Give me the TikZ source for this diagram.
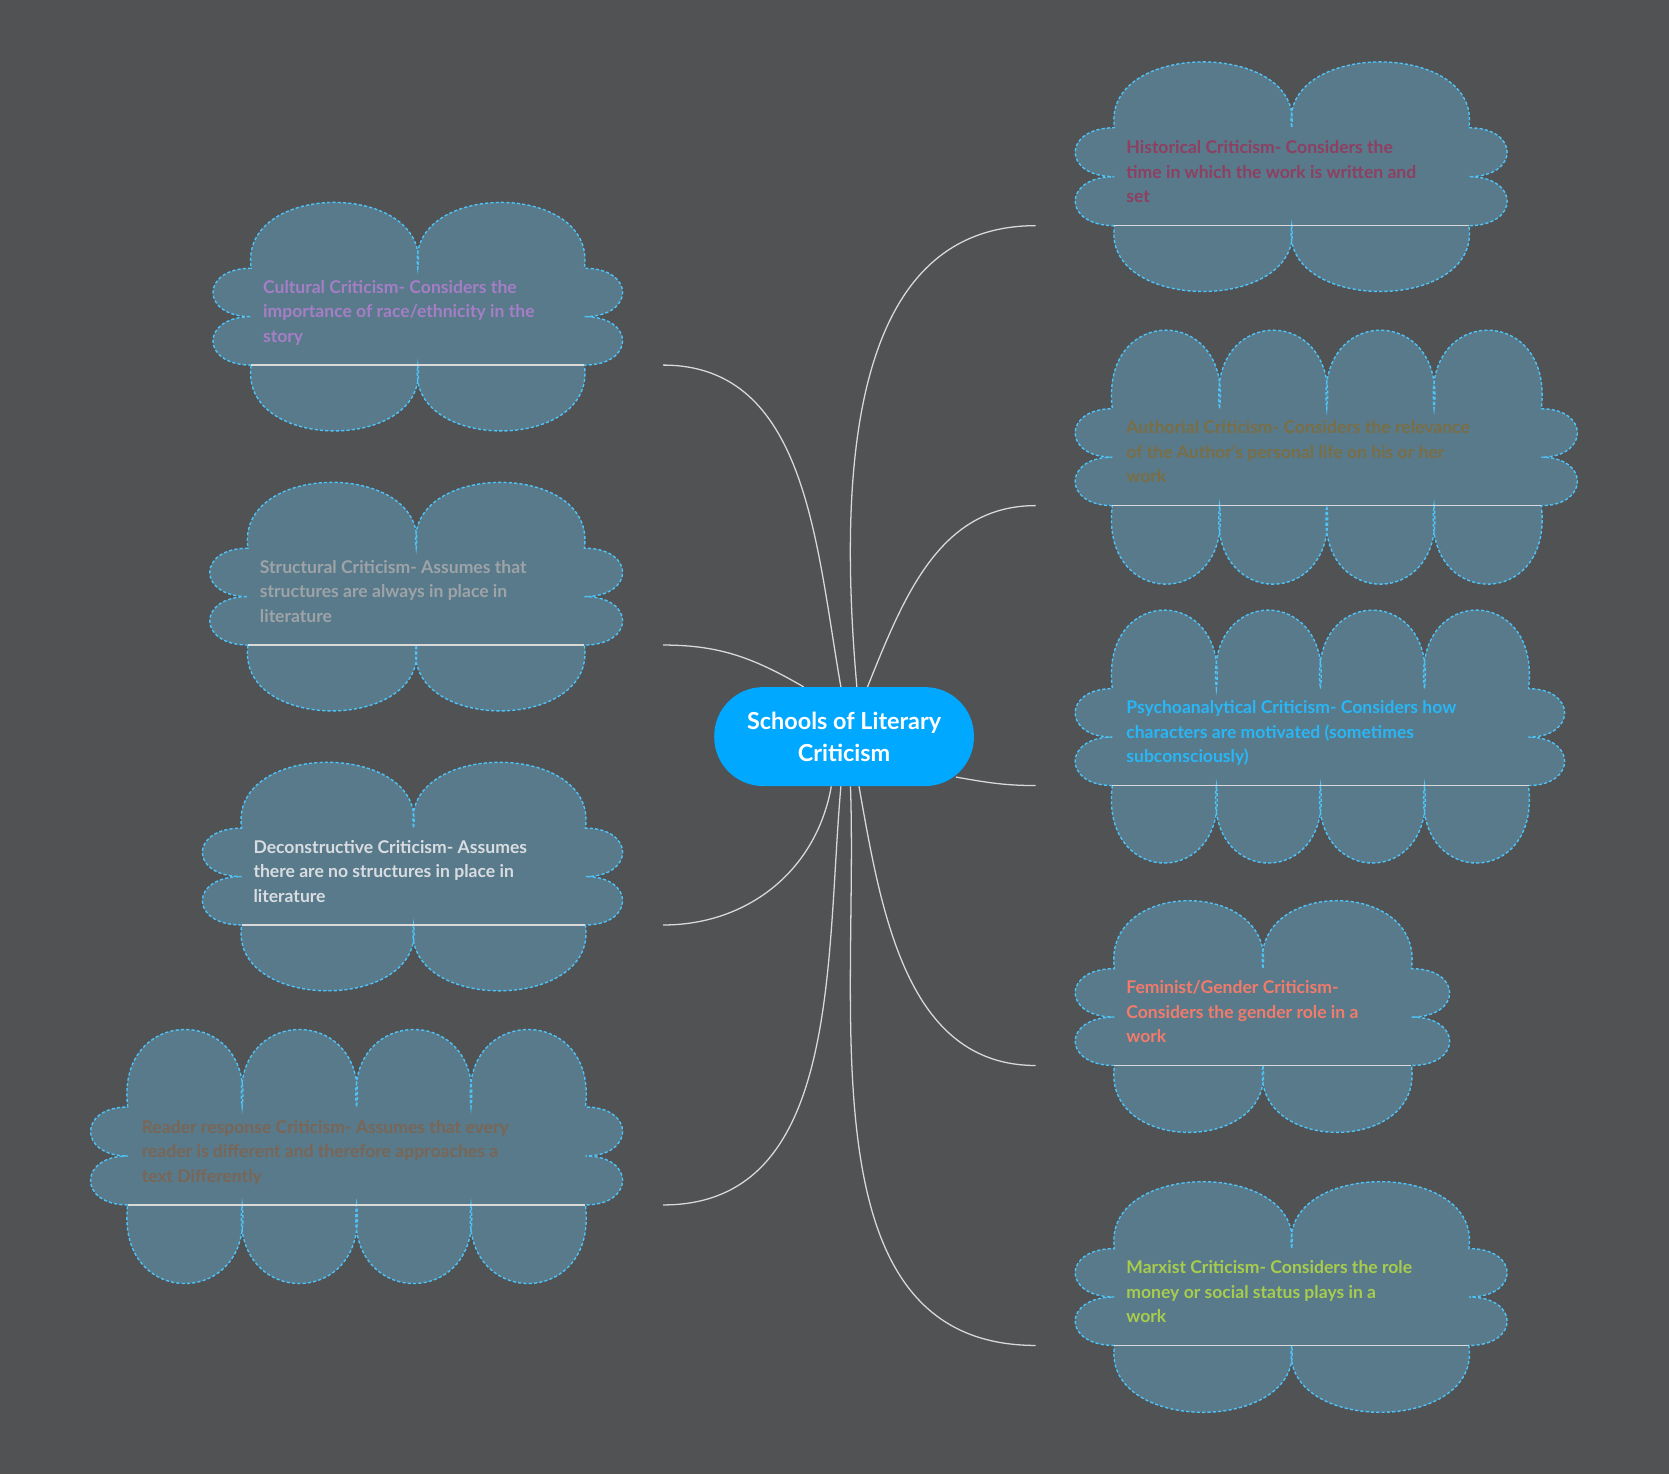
\documentclass[tikz,border=0pt]{standalone}
\usepackage{fontspec}
\setmainfont{Lato}
\definecolor{bg}{HTML}{515254}
\definecolor{cfill}{HTML}{587A8A}
\definecolor{cdash}{HTML}{4FC3F7}
\definecolor{cblue}{HTML}{00A8FF}
\definecolor{tHist}{HTML}{8E3F62}
\definecolor{tAuth}{HTML}{7A6E46}
\definecolor{tPsy}{HTML}{29B6F6}
\definecolor{tFem}{HTML}{F27B6B}
\definecolor{tMarx}{HTML}{A8CC4C}
\definecolor{tCult}{HTML}{A67EC6}
\definecolor{tStruc}{HTML}{9EA3A8}
\definecolor{tDec}{HTML}{D9DDE2}
\definecolor{tRead}{HTML}{7A6656}
\tikzset{
  cloudsty/.style={fill=cfill, draw=cdash, line width=1.3pt, dash pattern=on 3pt off 2pt},
  ctext/.style={anchor=north west, align=left, inner sep=0pt, font=\fontsize{16.5}{23}\selectfont\bfseries},
  uline/.style={draw=white!85!black, line width=1.4pt},
  conn/.style={draw=white!85!black, line width=1.2pt},
}
% #1 L #2 R #3 a #4 b #5 T #6 U #7 Ptop #8 Pbot #9 n
\newcommand\mycloud[9]{%
  \path[cloudsty] (#3,#6)
    .. controls ({#3-(#3-#1)*1.33},#6) and ({#3-(#3-#1)*1.33},{(#5+#6)/2}) .. (#3,{(#5+#6)/2})
    .. controls ({#3-(#3-#1)*1.33},{(#5+#6)/2}) and ({#3-(#3-#1)*1.33},#5) .. (#3,#5)
    \foreach \i in {1,...,#9}{
      .. controls ({#3+(\i-1)*(#4-#3)/#9-12},{#5-(#5-#7)*1.33}) and ({#3+\i*(#4-#3)/#9+12},{#5-(#5-#7)*1.33}) .. ({#3+\i*(#4-#3)/#9},#5)
    }
    .. controls ({#4+(#2-#4)*1.33},#5) and ({#4+(#2-#4)*1.33},{(#5+#6)/2}) .. (#4,{(#5+#6)/2})
    .. controls ({#4+(#2-#4)*1.33},{(#5+#6)/2}) and ({#4+(#2-#4)*1.33},#6) .. (#4,#6)
    \foreach \i in {1,...,#9}{
      .. controls ({#4-(\i-1)*(#4-#3)/#9+12},{#6+(#8-#6)*1.33}) and ({#4-\i*(#4-#3)/#9-12},{#6+(#8-#6)*1.33}) .. ({#4-\i*(#4-#3)/#9},#6)
    } -- cycle;
  \draw[uline] (#3,#6) -- (#4,#6);
}
\begin{document}
\begin{tikzpicture}[x=1pt,y=-1pt]
\fill[bg] (0,0) rectangle (1568,1385);
\useasboundingbox (0,0) rectangle (1568,1385);
% clouds
\mycloud{1010}{1416}{1047}{1380}{120}{212}{58}{274}{2}
\mycloud{1010}{1482}{1045}{1448}{384}{475}{310}{549}{4}
\mycloud{1010}{1470}{1045}{1436}{647}{738}{573}{811}{4}
\mycloud{1010}{1362}{1047}{1326}{910}{1001}{846}{1064}{2}
\mycloud{1010}{1416}{1047}{1380}{1173}{1264}{1110}{1327}{2}
\mycloud{200}{585}{236}{549}{252}{343}{190}{405}{2}
\mycloud{197}{585}{233}{549}{515}{606}{453}{668}{2}
\mycloud{190}{585}{227}{550}{778}{869}{716}{931}{2}
\mycloud{85}{585}{120}{550}{1040}{1132}{967}{1206}{4}
% texts
\node[ctext, text=tHist] (hist) at (1058,132) {Historical Criticism- Considers the\\time in which the work is written and\\set};
\node[ctext, text=tAuth] (auth) at (1058,395) {Authorial Criticism- Considers the relevance\\of the Author's personal life on his or her\\work};
\node[ctext, text=tPsy] (psy) at (1058,658) {Psychoanalytical Criticism- Considers how\\characters are motivated (sometimes\\subconsciously)};
\node[ctext, text=tFem] (fem) at (1058,921) {Feminist/Gender Criticism-\\Considers the gender role in a\\work};
\node[ctext, text=tMarx] (marx) at (1058,1184) {Marxist Criticism- Considers the role\\money or social status plays in a\\work};
\node[ctext, text=tCult] (cult) at (247,263) {Cultural Criticism- Considers the\\importance of race/ethnicity in the\\story};
\node[ctext, text=tStruc] (struc) at (244,526) {Structural Criticism- Assumes that\\structures are always in place in\\literature};
\node[ctext, text=tDec] (dec) at (238,789) {Deconstructive Criticism- Assumes\\there are no structures in place in\\literature};
\node[ctext, text=tRead] (read) at (133,1052) {Reader response Criticism- Assumes that every\\reader is different and therefore approaches a\\text Differently};
% connector endpoints
\coordinate (eH) at (973,212);
\coordinate (eA) at (973,475);
\coordinate (eP) at (973,738);
\coordinate (eF) at (973,1001);
\coordinate (eM) at (973,1264);
\coordinate (eC) at (623,343);
\coordinate (eS) at (623,606);
\coordinate (eD) at (623,869);
\coordinate (eR) at (623,1132);
% center node geometry (for anchors)
\path[use as bounding box] (0,0);
\node[inner sep=0pt, minimum width=244pt, minimum height=93pt] (cbox) at (793,692) {};
\draw[conn] ([xshift=12pt]cbox.north) to[out=95,in=180] (eH);
\draw[conn] ([xshift=22pt]cbox.north) to[out=68,in=180] (eA);
\draw[conn] ([xshift=105pt,yshift=-38pt]cbox.center) to[out=-10,in=180] (eP);
\draw[conn] ([xshift=14pt]cbox.south) to[out=-80,in=180] (eF);
\draw[conn] ([xshift=6pt]cbox.south) to[out=-88,in=180] (eM);
\draw[conn] ([xshift=-3pt]cbox.north) to[out=100,in=0] (eC);
\draw[conn] ([xshift=-38pt]cbox.north) to[out=150,in=0] (eS);
\draw[conn] ([xshift=-12pt]cbox.south) to[out=-100,in=0] (eD);
\draw[conn] ([xshift=-3pt]cbox.south) to[out=-95,in=0] (eR);
\node[fill=cblue, rounded corners=46pt, minimum width=244pt, minimum height=93pt, align=center, text=white, font=\fontsize{22}{30}\selectfont\bfseries] (center) at (793,692) {Schools of Literary\\Criticism};
\end{tikzpicture}
\end{document}
